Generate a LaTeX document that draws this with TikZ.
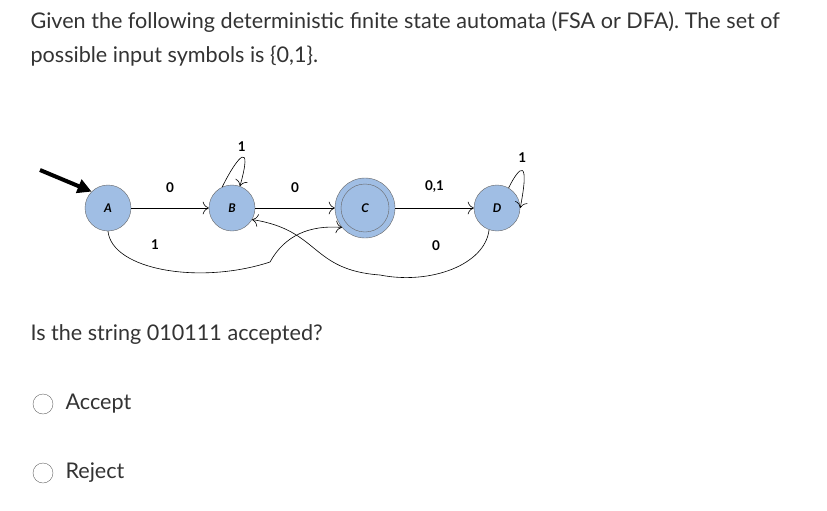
\documentclass[tikz,border=0pt]{standalone}
\usepackage{fontspec}
\setmainfont{Lato}
\usetikzlibrary{arrows.meta}
\begin{document}
\begin{tikzpicture}[x=1pt,y=-1pt,
 st/.style={circle,draw=black!60,fill={rgb,255:red,160;green,190;blue,228},minimum size=46pt,inner sep=0pt,font=\bfseries\itshape\fontsize{12}{13}\selectfont},
 ed/.style={-{To[length=6pt]},line width=0.6pt},
 lb/.style={font=\bfseries\fontsize{13.5}{15}\selectfont},
 tx/.style={anchor=base west,font=\fontsize{21.6}{26}\selectfont,text=black!80}]
\useasboundingbox (0,0) rectangle (827,511);
\node[tx] (t1) at (27,29) {Given the following deterministic finite state automata (FSA or DFA). The set of};
\node[tx] (t2) at (27,63) {possible input symbols is \{0,1\}.};
\node[st] (A) at (108,208) {A};
\node[st] (B) at (232,208) {B};
\node[st,minimum size=60pt] (C) at (365,208) {};
\node[circle,draw=black!60,minimum size=48pt,font=\bfseries\itshape\fontsize{12}{13}\selectfont] (Ci) at (365,208) {C};
\node[st] (D) at (497,208) {D};
\coordinate (s) at (40,170);
\draw[-{Triangle[length=14pt,width=14pt]},line width=4pt] (s) -- (A.135);
\draw[ed] (A) -- node[lb,above=12pt]{0} (B);
\draw[ed] (B) -- node[lb,above=12pt]{0} (C);
\draw[ed] (C) -- node[lb,above=12pt]{0,1} (D);
\draw[ed] (B.115) .. controls (238,155) and (253,140) .. node[lb,above=2pt]{1} (B.70);
\draw[ed] (D.60) .. controls (520,165) and (530,158) .. node[lb,above=4pt]{1} (D.0);
\draw[ed] (A.270) .. controls (112,270) and (200,285) .. (270,262) .. controls (285,235) and (310,225) .. (C.220);
\draw[ed] (D.250) .. controls (485,265) and (430,285) .. (380,275) .. controls (310,270) and (320,230) .. (B.-30);
\node[lb] (l1) at (155,245) {1};
\node[lb] (l0) at (436,246) {0};
\node[tx] (q) at (27,340) {Is the string 010111 accepted?};
\node[circle,draw=black!60,minimum size=20pt,inner sep=0pt] (r1) at (43,404) {};
\node[tx,anchor=west] (a1) at (62,404) {Accept};
\node[circle,draw=black!60,minimum size=20pt,inner sep=0pt] (r2) at (43,473) {};
\node[tx,anchor=west] (a2) at (62,473) {Reject};
\end{tikzpicture}
\end{document}
